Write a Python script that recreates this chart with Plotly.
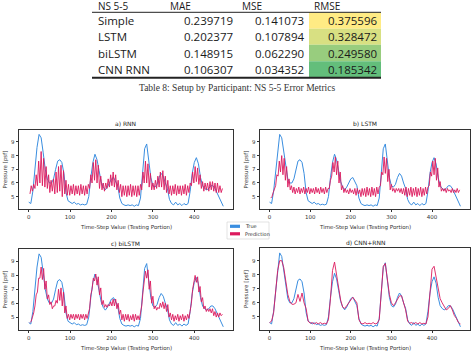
import plotly.graph_objects as go

W, H = 474, 351

# ---------------- table data ----------------
table_header = ["NS 5-5", "MAE", "MSE", "RMSE"]
models = ["Simple", "LSTM", "biLSTM", "CNN RNN"]
mae = [0.239719, 0.202377, 0.148915, 0.106307]
mse = [0.141073, 0.107894, 0.062290, 0.034352]
rmse = [0.375596, 0.328472, 0.249580, 0.185342]
caption = "Table 8: Setup by Participant: NS 5-5 Error Metrics"

# ---------------- chart data ----------------
panel_titles = ["a) RNN", "b) LSTM", "c) biLSTM", "d) CNN+RNN"]
x_title = "Time-Step Value (Testing Portion)"
y_title = "Pressure [psf]"
legend_labels = ["True", "Prediction"]
x_ticks = [0, 100, 200, 300, 400]
y_ticks = [5, 6, 7, 8, 9]

true_t = list(range(0, 471, 5))
true_vals = [
    4.6, 4.5, 5.4, 6.9, 8.6, 9.55, 9.3, 8.2, 7.0, 6.3,
    6.0, 6.0, 6.3, 7.0, 7.6, 7.7, 7.5, 6.7, 5.3, 4.7,
    4.6, 4.5, 4.6, 4.45, 4.5, 4.4, 4.45, 4.4, 4.45, 5.0,
    6.4, 7.5, 8.1, 7.7, 6.9, 6.1, 5.7, 5.5, 5.7, 6.0,
    6.3, 6.4, 6.1, 5.8, 4.9, 4.5, 4.4, 4.35, 4.4, 4.35,
    4.4, 4.3, 4.4, 4.35, 4.9, 6.8, 8.5, 8.85, 7.6, 6.4,
    5.8, 5.7, 5.9, 6.4, 6.7, 6.5, 6.0, 5.6, 4.8, 4.5,
    4.4, 4.6, 4.4, 4.5, 4.35, 4.5, 4.4, 4.5, 5.4, 6.7,
    7.5, 7.85, 7.4, 6.4, 5.8, 5.6, 5.5, 5.6, 5.8, 5.8,
    5.6, 5.3, 5.0, 4.6, 4.3,
]

osc_t = list(range(3, 469, 3))
rnn_pred = [
    5.2, 5.8, 5.4, 5.9, 5.6, 6.6, 5.8, 7.6, 6.0, 8.3,
    5.8, 7.8, 5.7, 7.2, 5.6, 6.6, 5.3, 6.2, 5.4, 6.3,
    5.2, 6.8, 5.3, 7.2, 5.4, 7.3, 5.0, 6.9, 5.2, 6.2,
    5.1, 5.9, 5.1, 5.8, 5.2, 5.9, 5.1, 5.8, 5.2, 5.8,
    5.1, 5.9, 5.2, 5.8, 5.1, 5.8, 5.2, 5.9, 5.6, 6.6,
    6.0, 7.5, 6.2, 7.7, 6.0, 7.3, 5.6, 6.5, 5.5, 6.0,
    5.4, 6.0, 5.6, 6.3, 5.7, 6.6, 5.8, 6.8, 5.7, 6.6,
    5.5, 6.2, 5.3, 5.9, 5.0, 5.8, 5.1, 5.8, 5.0, 5.8,
    5.1, 5.9, 5.0, 5.8, 5.1, 5.8, 5.0, 5.8, 5.1, 5.9,
    5.5, 6.8, 6.0, 7.6, 6.0, 7.4, 5.7, 6.7, 5.5, 6.0,
    5.5, 6.2, 5.6, 6.5, 5.7, 6.8, 5.7, 6.9, 5.5, 6.5,
    5.3, 6.2, 5.2, 5.8, 5.1, 5.8, 5.2, 5.9, 5.1, 5.8,
    5.2, 5.8, 5.1, 5.8, 5.2, 5.9, 5.1, 5.8, 5.3, 6.0,
    5.8, 6.8, 6.0, 7.2, 6.1, 7.1, 5.9, 6.6, 5.6, 6.1,
    5.4, 6.0, 5.5, 6.0, 5.4, 6.1, 5.5, 6.1, 5.4, 6.0,
    5.3, 6.0, 5.3, 5.8, 5.3, 5.6,
]
lstm_pred = [
    4.9, 5.0, 5.3, 5.6, 5.8, 6.6, 6.5, 7.6, 6.8, 8.0,
    6.6, 7.8, 6.2, 7.2, 5.7, 6.3, 5.5, 5.8, 5.3, 5.7,
    5.2, 5.6, 5.3, 5.7, 5.2, 5.6, 5.3, 5.7, 5.2, 5.6,
    5.3, 5.7, 5.2, 5.6, 5.3, 5.6, 5.2, 5.7, 5.3, 5.6,
    5.2, 5.7, 5.3, 5.6, 5.2, 5.7, 5.3, 5.6, 5.6, 6.2,
    6.5, 7.5, 6.8, 7.9, 6.6, 7.6, 6.0, 6.8, 5.5, 5.8,
    5.3, 5.6, 5.3, 5.5, 5.2, 5.6, 5.3, 5.5, 5.2, 5.6,
    5.1, 5.6, 5.2, 5.5, 5.0, 5.6, 5.1, 5.6, 5.0, 5.7,
    5.1, 5.6, 5.0, 5.7, 5.1, 5.6, 5.0, 5.7, 5.2, 5.7,
    5.8, 6.8, 6.6, 7.9, 6.7, 7.8, 6.1, 7.0, 5.5, 5.9,
    5.4, 5.6, 5.3, 5.6, 5.4, 5.6, 5.3, 5.6, 5.2, 5.6,
    5.1, 5.7, 5.0, 5.6, 5.1, 5.7, 5.0, 5.6, 5.1, 5.7,
    5.0, 5.6, 5.1, 5.7, 5.0, 5.6, 5.1, 5.7, 5.2, 5.7,
    5.8, 6.8, 6.5, 7.6, 6.6, 7.8, 6.2, 7.1, 5.7, 6.1,
    5.4, 5.6, 5.4, 5.6, 5.3, 5.6, 5.4, 5.5, 5.3, 5.6,
    5.3, 5.5, 5.3, 5.6, 5.3, 5.5,
]
bilstm_pred = [
    4.6, 4.7, 5.0, 5.3, 5.8, 6.6, 6.8, 7.8, 7.8, 8.6,
    7.7, 8.5, 7.0, 7.6, 6.3, 6.6, 5.9, 6.1, 5.6, 5.8,
    5.8, 6.2, 6.0, 7.0, 6.2, 7.1, 5.8, 6.8, 5.3, 5.8,
    4.9, 5.2, 4.8, 5.2, 4.9, 5.2, 4.8, 5.2, 4.9, 5.2,
    4.8, 5.2, 4.9, 5.2, 4.8, 5.2, 4.9, 5.3, 5.6, 6.6,
    7.0, 7.8, 7.6, 8.1, 7.3, 7.9, 6.6, 7.1, 5.9, 6.2,
    5.7, 5.9, 5.7, 5.9, 5.8, 6.1, 5.8, 6.3, 5.8, 6.3,
    5.6, 6.0, 5.2, 5.5, 4.8, 5.2, 4.7, 5.2, 4.8, 5.2,
    4.7, 5.1, 4.8, 5.2, 4.7, 5.2, 4.8, 5.1, 4.8, 5.3,
    5.8, 6.8, 7.6, 8.3, 7.8, 8.4, 7.0, 7.6, 6.0, 6.5,
    5.6, 5.8, 5.5, 5.7, 5.6, 6.0, 5.7, 6.1, 5.6, 6.0,
    5.4, 5.9, 5.0, 5.3, 4.8, 5.2, 4.7, 5.1, 4.8, 5.2,
    4.7, 5.1, 4.8, 5.2, 4.7, 5.1, 4.8, 5.2, 4.9, 5.4,
    6.0, 7.0, 7.4, 8.0, 7.5, 7.9, 6.8, 7.2, 6.1, 6.4,
    5.6, 5.8, 5.4, 5.6, 5.4, 5.6, 5.3, 5.6, 5.1, 5.4,
    5.0, 5.3, 5.0, 5.3, 5.1, 5.2,
]
cnn_t = list(range(0, 471, 5))
cnn_pred = [
    4.6, 4.7, 5.3, 6.8, 8.3, 9.0, 9.0, 8.5, 7.5, 6.6,
    6.1, 5.9, 5.9, 6.0, 6.6, 6.1, 6.7, 6.0, 5.6, 4.7,
    4.55, 4.6, 4.5, 4.6, 4.5, 4.6, 4.5, 4.55, 4.5, 4.8,
    6.3, 8.3, 8.9, 7.9, 7.0, 6.2, 5.7, 5.6, 5.8, 6.0,
    6.2, 6.4, 6.2, 6.0, 4.8, 4.55, 4.5, 4.6, 4.5, 4.55,
    4.5, 4.6, 4.5, 4.55, 4.8, 6.5, 8.6, 8.8, 7.8, 6.6,
    6.0, 5.8, 6.0, 6.3, 6.5, 6.5, 6.0, 5.5, 4.7, 4.55,
    4.6, 4.5, 4.6, 4.5, 4.6, 4.5, 4.55, 4.5, 5.0, 6.6,
    8.4, 8.6, 7.8, 6.9, 6.3, 6.0, 5.7, 5.5, 5.6, 5.8,
    5.5, 5.1, 4.9, 4.6, 4.5,
]

panels = [
    (osc_t, rnn_pred),
    (osc_t, lstm_pred),
    (osc_t, bilstm_pred),
    (cnn_t, cnn_pred),
]

TRUE_C = "#3a8ee0"
PRED_C = "#dc1a5e"


def px(x):
    return x / W


def py(y):
    return 1 - y / H


# panel frames in pixels: (left, right, top, bottom)
frames = [
    (19, 233, 130, 209),
    (260, 470, 130, 209),
    (19, 233, 249, 330),
    (260, 470, 248, 330),
]

fig = go.Figure()
layout = dict(
    width=W, height=H, autosize=False,
    margin=dict(l=0, r=0, t=0, b=0),
    paper_bgcolor="white", plot_bgcolor="white",
    showlegend=False,
    font=dict(family="DejaVu Sans", color="#222"),
)

axis_common = dict(
    showgrid=False, zeroline=False, showline=True, mirror=True,
    linecolor="#333", linewidth=0.7,
    ticks="outside", ticklen=2.5, tickwidth=0.6, tickcolor="#333",
    tickfont=dict(size=5.5, color="#333", family="DejaVu Sans"),
)

annotations = []
shapes = []

for i, ((l, r, t, b), (pt, pv)) in enumerate(zip(frames, panels)):
    n = "" if i == 0 else str(i + 1)
    xa, ya = "x" + n, "y" + n
    fig.add_trace(go.Scatter(x=true_t, y=true_vals, mode="lines",
                             line=dict(color=TRUE_C, width=1.0),
                             xaxis=xa, yaxis=ya, name=legend_labels[0]))
    fig.add_trace(go.Scatter(x=pt, y=pv, mode="lines",
                             line=dict(color=PRED_C, width=0.9),
                             xaxis=xa, yaxis=ya, name=legend_labels[1]))
    layout["xaxis" + n] = dict(axis_common, domain=[px(l), px(r)],
                               range=[-23.5, 493.5], tickvals=x_ticks,
                               anchor=ya)
    yr = [4.1, 9.87] if i < 2 else [4.07, 9.9]
    layout["yaxis" + n] = dict(axis_common, domain=[py(b), py(t)],
                               range=yr, tickvals=y_ticks, anchor=xa)
    cx = (l + r) / 2
    cy = (t + b) / 2
    annotations.append(dict(text=panel_titles[i], x=px(cx), y=py(t - 6),
                            xref="paper", yref="paper", showarrow=False,
                            xanchor="center", yanchor="middle",
                            font=dict(size=6, color="#222")))
    annotations.append(dict(text=x_title, x=px(cx), y=py(b + 18.5),
                            xref="paper", yref="paper", showarrow=False,
                            xanchor="center", yanchor="middle",
                            font=dict(size=5.5, color="#333")))
    annotations.append(dict(text=y_title, x=px(l - 14), y=py(cy),
                            xref="paper", yref="paper", showarrow=False,
                            xanchor="center", yanchor="middle", textangle=-90,
                            font=dict(size=5.5, color="#333")))

# ---------------- legend (drawn) ----------------
shapes.append(dict(type="rect", xref="paper", yref="paper",
                   x0=px(227), x1=px(269), y0=py(239), y1=py(222),
                   line=dict(color="#d0d0d0", width=0.6), fillcolor="white"))
for k, (lab, col) in enumerate(zip(legend_labels, [TRUE_C, PRED_C])):
    yc = 226.3 + k * 7.5
    shapes.append(dict(type="rect", xref="paper", yref="paper",
                       x0=px(230), x1=px(240), y0=py(yc + 1.6), y1=py(yc - 1.6),
                       line=dict(width=0), fillcolor=col))
    annotations.append(dict(text=lab, x=px(243), y=py(yc), xref="paper",
                            yref="paper", showarrow=False, xanchor="left",
                            yanchor="middle", font=dict(size=5, color="#333")))

# ---------------- table ----------------
TFONT = dict(family="Open Sans", size=11.5, color="#1a1a1a")
HFONT = dict(family="Open Sans", size=10, color="#1a1a1a")
row_y = [20.5, 36.5, 53, 69.5]
row_edges = [12.5, 28.7, 44.8, 61.2, 77.2]

# RMSE colour scale (Excel-like: green = min, yellow = max)
lo_c, hi_c = (0x63, 0xBE, 0x7B), (0xFF, 0xEB, 0x84)
rmin, rmax = min(rmse), max(rmse)
for j, v in enumerate(rmse):
    f = (v - rmin) / (rmax - rmin)
    c = tuple(int(round(lo_c[q] + f * (hi_c[q] - lo_c[q]))) for q in range(3))
    shapes.append(dict(type="rect", xref="paper", yref="paper", layer="below",
                       x0=px(309), x1=px(381), y0=py(row_edges[j + 1]),
                       y1=py(row_edges[j]), line=dict(width=0),
                       fillcolor="rgb(%d,%d,%d)" % c))

shapes.append(dict(type="line", xref="paper", yref="paper",
                   x0=px(92), x1=px(381), y0=py(12.3), y1=py(12.3),
                   line=dict(color="#222", width=1)))
shapes.append(dict(type="line", xref="paper", yref="paper",
                   x0=px(92), x1=px(381), y0=py(77.8), y1=py(77.8),
                   line=dict(color="#222", width=2)))

head_x = [96, 168, 240, 312]
for hx, ht in zip(head_x, table_header):
    annotations.append(dict(text=ht, x=px(hx), y=py(6.2), xref="paper",
                            yref="paper", showarrow=False, xanchor="left",
                            yanchor="middle", font=HFONT))
for j in range(len(models)):
    annotations.append(dict(text=models[j], x=px(96), y=py(row_y[j]),
                            xref="paper", yref="paper", showarrow=False,
                            xanchor="left", yanchor="middle", font=TFONT))
    for vx, col in zip([235, 306, 379], [mae, mse, rmse]):
        annotations.append(dict(text="%.6f" % col[j], x=px(vx), y=py(row_y[j]),
                                xref="paper", yref="paper", showarrow=False,
                                xanchor="right", yanchor="middle", font=TFONT))

annotations.append(dict(text=caption, x=px(237), y=py(87.5), xref="paper",
                        yref="paper", showarrow=False, xanchor="center",
                        yanchor="middle",
                        font=dict(family="Liberation Serif", size=9.5,
                                  color="#333")))

layout["annotations"] = annotations
layout["shapes"] = shapes
fig.update_layout(**layout)
fig.write_html("out.html")
